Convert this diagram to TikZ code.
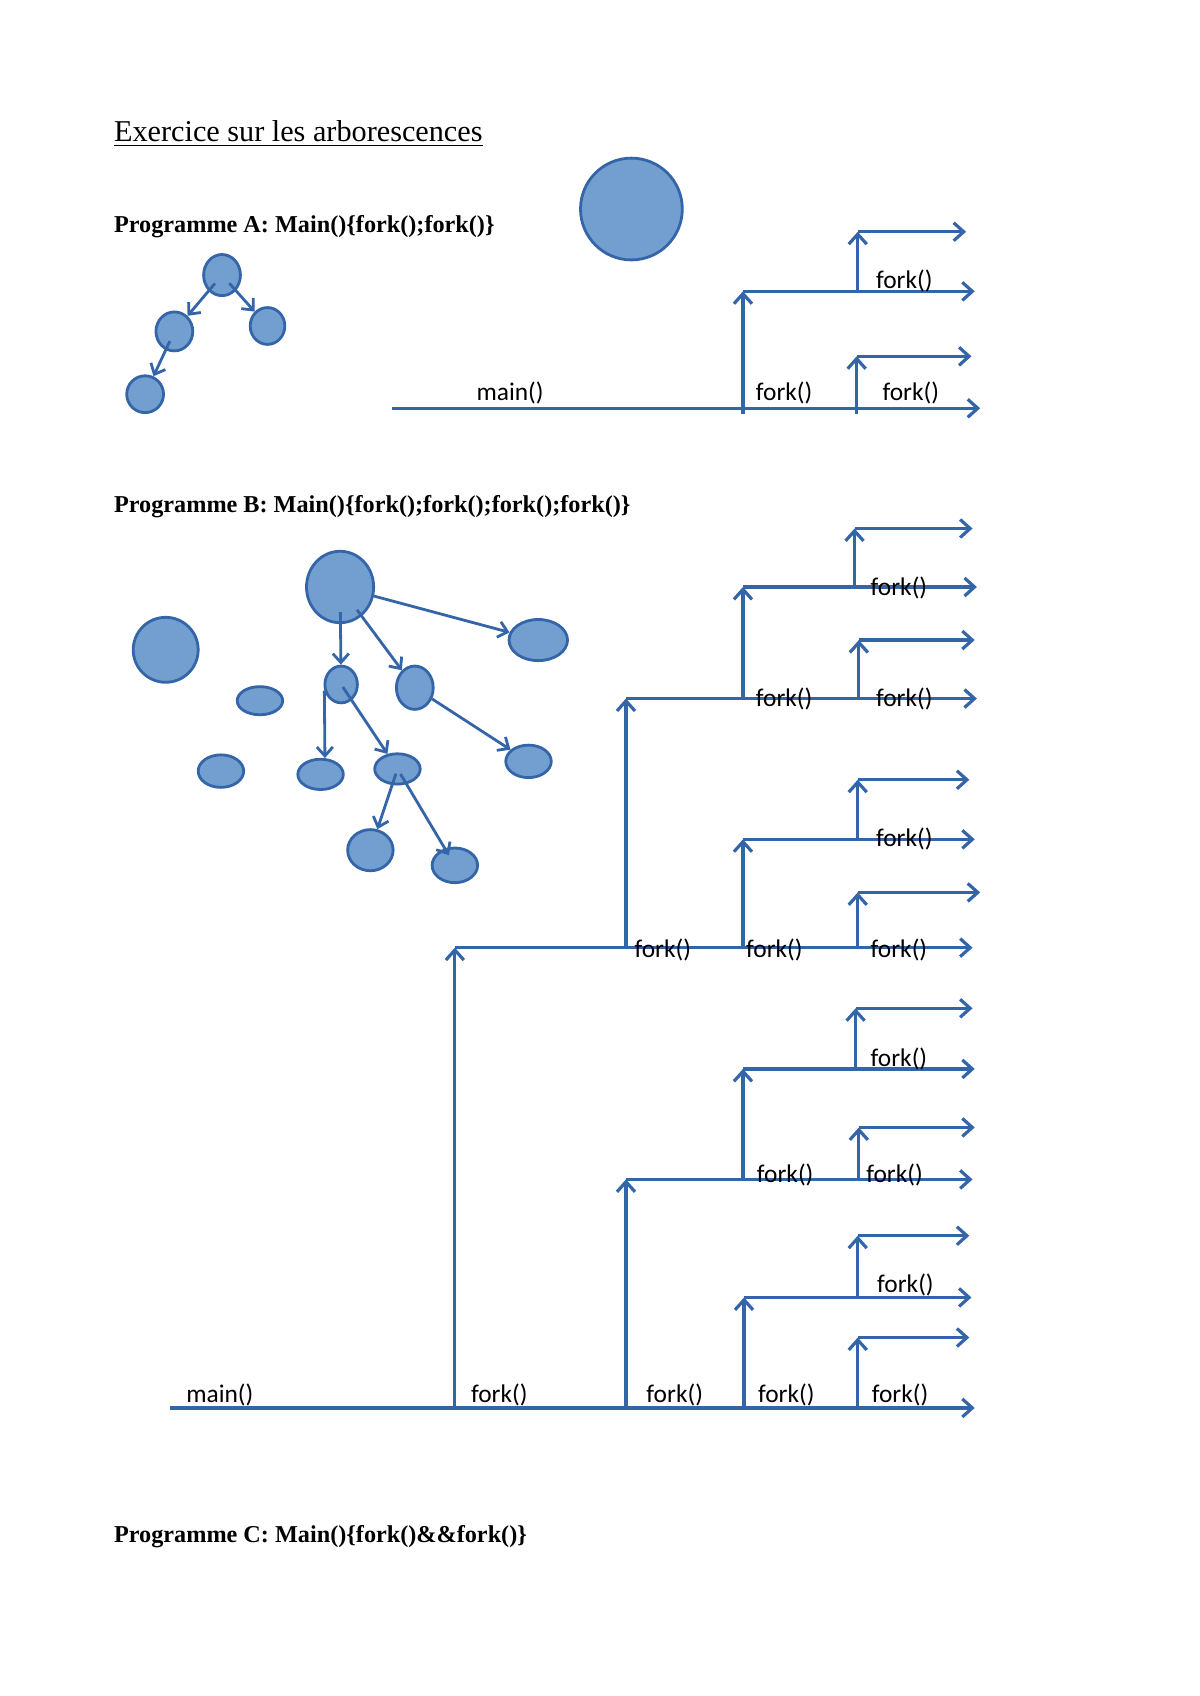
\documentclass[tikz,border=0pt]{standalone}
\usepackage{fontspec}
\setmainfont{Liberation Serif}
\newfontfamily\labfont{Carlito}
\usetikzlibrary{arrows.meta,shapes.geometric}
\definecolor{lc}{HTML}{3465A8}
\definecolor{nf}{HTML}{729FCF}
\tikzset{
  arr/.style={draw=lc, line width=1.6pt, -{Straight Barb[length=5pt,width=9pt]}},
  tarr/.style={draw=lc, line width=1.4pt, -{Straight Barb[length=4.5pt,width=8pt]}},
  nd/.style={ellipse, draw=lc, fill=nf, line width=1.4pt, inner sep=0pt},
  ns/.style 2 args={minimum width=#1*0.541pt, minimum height=#2*0.541pt},
  lab/.style={font=\labfont\fontsize{12.7}{15}\selectfont, inner sep=0pt, anchor=base},
  head/.style={font=\bfseries\fontsize{12.1}{14}\selectfont, inner sep=0pt, anchor=base west},
}
\begin{document}
\begin{tikzpicture}[x=0.541pt, y=-0.541pt]
\useasboundingbox (0,0) rectangle (1108,1566);

% Title and headings
\node[font=\fontsize{15.1}{18}\selectfont, inner sep=0pt, anchor=base west] (title) at (105,131) {\underline{Exercice sur les arborescences}};
\node[head] (hA) at (105,215) {Programme A: Main()\{fork();fork()\}};
\node[head] (hB) at (105,473) {Programme B: Main()\{fork();fork();fork();fork()\}};
\node[head] (hC) at (105,1424) {Programme C: Main()\{fork()\&\&fork()\}};

% Program A nodes
\node[nd, ns={94}{94}] (cA) at (583,193) {};
\node[nd, ns={34}{38}] (tA) at (205,254) {};
\node[nd, ns={34}{36}] (lA) at (161,306) {};
\node[nd, ns={32}{34}] (rA) at (247,301) {};
\node[nd, ns={34}{34}] (bA) at (134,364) {};
\draw[tarr, shorten <=-5pt] (tA) -- (lA);
\draw[tarr, shorten <=-5pt] (tA) -- (rA);
\draw[tarr, shorten <=-5pt] (lA) -- (bA);

% Program A timeline
\coordinate (a0) at (362,377); \coordinate (aE) at (905,377);
\coordinate (a1) at (686,382); \coordinate (a1t) at (686,269); \coordinate (a1e) at (900,269);
\coordinate (a2) at (791,382); \coordinate (a2t) at (791,329); \coordinate (a2e) at (897,329);
\coordinate (a3) at (792,269); \coordinate (a3t) at (792,214); \coordinate (a3e) at (892,214);
\draw[arr] (a0) -- (aE);
\draw[arr] (a1) -- (a1t); \draw[arr] (a1t) -- (a1e);
\draw[arr] (a2) -- (a2t); \draw[arr] (a2t) -- (a2e);
\draw[arr] (a3) -- (a3t); \draw[arr] (a3t) -- (a3e);
\node[lab] (la0) at (471,370) {main()};
\node[lab] (la1) at (724,370) {fork()};
\node[lab] (la2) at (841,370) {fork()};
\node[lab] (la3) at (835,266) {fork()};

% Program B nodes
\node[nd, ns={62}{66}] (R) at (314,542) {};
\node[nd, ns={60}{60}] (L) at (153,600) {};
\node[nd, ns={54}{38}] (E1) at (497,591) {};
\node[nd, ns={42}{26}] (S1) at (240,647) {};
\node[nd, ns={30}{34}] (C1) at (315,632) {};
\node[nd, ns={34}{40}] (C2) at (383,635) {};
\node[nd, ns={42}{30}] (E2) at (488,703) {};
\node[nd, ns={42}{30}] (E3) at (204,712) {};
\node[nd, ns={42}{28}] (E4) at (296,715) {};
\node[nd, ns={42}{28}] (E5) at (367,710) {};
\node[nd, ns={42}{38}] (E6) at (342,785) {};
\node[nd, ns={42}{32}] (E7) at (420,799) {};
\draw[tarr] (R) -- (E1);
\draw[tarr, shorten <=-4pt] (R) -- (C2);
\draw[tarr, shorten <=-6pt] (R) -- (C1);
\draw[tarr] (C1.200) -- (E4.75);
\draw[tarr, shorten <=-8pt] (C1) -- (E5);
\draw[tarr] (C2) -- (E2);
\draw[tarr, shorten <=-6pt] (E5) -- (E6);
\draw[tarr, shorten <=-6pt, shorten >=-4pt] (E5) -- (E7);

% Program B timeline
\coordinate (b0) at (157,1300); \coordinate (bE) at (900,1300);
\coordinate (b1) at (420,1300); \coordinate (b1t) at (420,875); \coordinate (b1e) at (898,875);
\coordinate (b2) at (578,1300); \coordinate (b2t) at (578,1089); \coordinate (b2e) at (898,1089);
\coordinate (b3) at (687,1300); \coordinate (b3t) at (687,1198); \coordinate (b3e) at (897,1198);
\coordinate (b4) at (792,1300); \coordinate (b4t) at (792,1235); \coordinate (b4e) at (895,1235);
\coordinate (b5) at (792,1198); \coordinate (b5t) at (792,1141); \coordinate (b5e) at (895,1141);
\coordinate (b6) at (686,1089); \coordinate (b6t) at (686,987); \coordinate (b6e) at (900,987);
\coordinate (b7) at (793,1089); \coordinate (b7t) at (793,1041); \coordinate (b7e) at (900,1041);
\coordinate (b8) at (790,987); \coordinate (b8t) at (790,931); \coordinate (b8e) at (898,931);
\coordinate (b9) at (578,875); \coordinate (b9t) at (578,645); \coordinate (b9e) at (902,645);
\coordinate (b10) at (686,875); \coordinate (b10t) at (686,775); \coordinate (b10e) at (900,775);
\coordinate (b11) at (792,875); \coordinate (b11t) at (792,824); \coordinate (b11e) at (905,824);
\coordinate (b12) at (792,775); \coordinate (b12t) at (792,720); \coordinate (b12e) at (895,720);
\coordinate (b13) at (686,645); \coordinate (b13t) at (686,542); \coordinate (b13e) at (902,542);
\coordinate (b14) at (793,645); \coordinate (b14t) at (793,591); \coordinate (b14e) at (900,591);
\coordinate (b15) at (789,542); \coordinate (b15t) at (789,488); \coordinate (b15e) at (898,488);
\draw[arr] (b0) -- (bE);
\foreach \i in {1,...,15} {
  \draw[arr] (b\i) -- (b\i t);
  \draw[arr] (b\i t) -- (b\i e);
}
\node[lab] (lb0) at (203,1295) {main()};
\node[lab] (lb1) at (461,1295) {fork()};
\node[lab] (lb2) at (623,1295) {fork()};
\node[lab] (lb3) at (726,1295) {fork()};
\node[lab] (lb4) at (831,1295) {fork()};
\node[lab] (lb5) at (836,1193) {fork()};
\node[lab] (lb6) at (725,1092) {fork()};
\node[lab] (lb7) at (826,1092) {fork()};
\node[lab] (lb8) at (830,985) {fork()};
\node[lab] (lb9) at (612,884) {fork()};
\node[lab] (lb10) at (715,884) {fork()};
\node[lab] (lb11) at (830,884) {fork()};
\node[lab] (lb12) at (835,782) {fork()};
\node[lab] (lb13) at (724,652) {fork()};
\node[lab] (lb14) at (835,652) {fork()};
\node[lab] (lb15) at (830,550) {fork()};
\end{tikzpicture}
\end{document}
